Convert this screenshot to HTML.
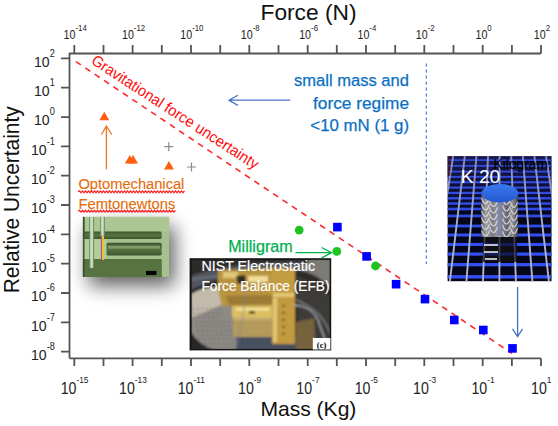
<!DOCTYPE html>
<html><head><meta charset="utf-8"><style>
html,body{margin:0;padding:0;background:#fff;width:558px;height:426px;overflow:hidden}
svg{display:block;position:absolute;left:0;top:0}
text{font-family:"Liberation Sans",sans-serif}
</style></head><body>
<svg width="558" height="426" viewBox="0 0 558 426">
<defs>
<filter id="shd" x="-60%" y="-60%" width="220%" height="220%"><feGaussianBlur stdDeviation="9.5"/></filter>
<filter id="blur1" x="-5%" y="-5%" width="110%" height="110%"><feGaussianBlur stdDeviation="0.7"/></filter>
<filter id="blur2" x="-5%" y="-5%" width="110%" height="110%"><feGaussianBlur stdDeviation="1.0"/></filter>
<clipPath id="efbclip"><rect x="191.5" y="259.7" width="138.2" height="89.2"/></clipPath>
<clipPath id="kgclip"><rect x="447.4" y="156.1" width="104.3" height="125.3"/></clipPath>
<linearGradient id="omdark" x1="0" x2="0" y1="0" y2="1">
<stop offset="0" stop-color="#3e5630"/><stop offset="0.5" stop-color="#587442"/><stop offset="1" stop-color="#3e5630"/>
</linearGradient>
<linearGradient id="kghaze" x1="0" x2="0" y1="0" y2="1"><stop offset="0" stop-color="#3a44b8" stop-opacity="0.35"/><stop offset="0.4" stop-color="#2a3090" stop-opacity="0.12"/><stop offset="0.6" stop-color="#000" stop-opacity="0"/></linearGradient>
<linearGradient id="kgcyl2" x1="0" x2="1" y1="0" y2="0">
<stop offset="0" stop-color="#5a5a60"/><stop offset="0.12" stop-color="#c8c8cc"/><stop offset="0.3" stop-color="#909098"/><stop offset="0.5" stop-color="#d0d0d4"/><stop offset="0.7" stop-color="#6a6a78"/><stop offset="0.85" stop-color="#b0b0b8"/><stop offset="1" stop-color="#3a3a44"/>
</linearGradient>
<linearGradient id="kgtop" x1="0" x2="0" y1="0" y2="1"><stop offset="0" stop-color="#3a78f0"/><stop offset="1" stop-color="#2358d0"/></linearGradient>
</defs>
<path d="M69.5,358.3 L69.5,53.5 L541.0,53.5" fill="none" stroke="#545454" stroke-width="1.8" stroke-linejoin="round"/>
<path d="M69.5,358.3 L541.0,358.3" fill="none" stroke="#545454" stroke-width="1.8"/>
<path d="M74.3,53.5 L74.3,45 M74.3,358.3 L74.3,366 M103.5,53.5 L103.5,45 M103.5,358.3 L103.5,366 M132.6,53.5 L132.6,45 M132.6,358.3 L132.6,366 M161.8,53.5 L161.8,45 M161.8,358.3 L161.8,366 M191.0,53.5 L191.0,45 M191.0,358.3 L191.0,366 M220.2,53.5 L220.2,45 M220.2,358.3 L220.2,366 M249.3,53.5 L249.3,45 M249.3,358.3 L249.3,366 M278.5,53.5 L278.5,45 M278.5,358.3 L278.5,366 M307.7,53.5 L307.7,45 M307.7,358.3 L307.7,366 M336.8,53.5 L336.8,45 M336.8,358.3 L336.8,366 M366.0,53.5 L366.0,45 M366.0,358.3 L366.0,366 M395.2,53.5 L395.2,45 M395.2,358.3 L395.2,366 M424.3,53.5 L424.3,45 M424.3,358.3 L424.3,366 M453.5,53.5 L453.5,45 M453.5,358.3 L453.5,366 M482.7,53.5 L482.7,45 M482.7,358.3 L482.7,366 M511.9,53.5 L511.9,45 M511.9,358.3 L511.9,366 M541.0,53.5 L541.0,45 M541.0,358.3 L541.0,366 M61,58.4 L69.5,58.4 M61,87.7 L69.5,87.7 M61,117.1 L69.5,117.1 M61,146.4 L69.5,146.4 M61,175.7 L69.5,175.7 M61,205.0 L69.5,205.0 M61,234.4 L69.5,234.4 M61,263.7 L69.5,263.7 M61,293.0 L69.5,293.0 M61,322.4 L69.5,322.4 M61,351.7 L69.5,351.7" stroke="#545454" stroke-width="1.8" fill="none"/>
<g transform="translate(75.20,39.00) scale(0.87,1)"><text x="0" y="0" font-size="12.3" text-anchor="middle" fill="#222">10<tspan font-size="9" dy="-8.3">-14</tspan></text></g>
<g transform="translate(133.54,39.00) scale(0.87,1)"><text x="0" y="0" font-size="12.3" text-anchor="middle" fill="#222">10<tspan font-size="9" dy="-8.3">-12</tspan></text></g>
<g transform="translate(191.88,39.00) scale(0.87,1)"><text x="0" y="0" font-size="12.3" text-anchor="middle" fill="#222">10<tspan font-size="9" dy="-8.3">-10</tspan></text></g>
<g transform="translate(250.22,39.00) scale(0.87,1)"><text x="0" y="0" font-size="12.3" text-anchor="middle" fill="#222">10<tspan font-size="9" dy="-8.3">-8</tspan></text></g>
<g transform="translate(308.56,39.00) scale(0.87,1)"><text x="0" y="0" font-size="12.3" text-anchor="middle" fill="#222">10<tspan font-size="9" dy="-8.3">-6</tspan></text></g>
<g transform="translate(366.90,39.00) scale(0.87,1)"><text x="0" y="0" font-size="12.3" text-anchor="middle" fill="#222">10<tspan font-size="9" dy="-8.3">-4</tspan></text></g>
<g transform="translate(425.24,39.00) scale(0.87,1)"><text x="0" y="0" font-size="12.3" text-anchor="middle" fill="#222">10<tspan font-size="9" dy="-8.3">-2</tspan></text></g>
<g transform="translate(483.58,39.00) scale(0.87,1)"><text x="0" y="0" font-size="12.3" text-anchor="middle" fill="#222">10<tspan font-size="9" dy="-8.3">0</tspan></text></g>
<g transform="translate(541.92,39.00) scale(0.87,1)"><text x="0" y="0" font-size="12.3" text-anchor="middle" fill="#222">10<tspan font-size="9" dy="-8.3">2</tspan></text></g>
<g transform="translate(74.60,393.70) scale(0.87,1)"><text x="0" y="0" font-size="16.3" text-anchor="middle" fill="#222">10<tspan font-size="9.6" dy="-10.6">-15</tspan></text></g>
<g transform="translate(132.94,393.70) scale(0.87,1)"><text x="0" y="0" font-size="16.3" text-anchor="middle" fill="#222">10<tspan font-size="9.6" dy="-10.6">-13</tspan></text></g>
<g transform="translate(191.28,393.70) scale(0.87,1)"><text x="0" y="0" font-size="16.3" text-anchor="middle" fill="#222">10<tspan font-size="9.6" dy="-10.6">-11</tspan></text></g>
<g transform="translate(249.62,393.70) scale(0.87,1)"><text x="0" y="0" font-size="16.3" text-anchor="middle" fill="#222">10<tspan font-size="9.6" dy="-10.6">-9</tspan></text></g>
<g transform="translate(307.96,393.70) scale(0.87,1)"><text x="0" y="0" font-size="16.3" text-anchor="middle" fill="#222">10<tspan font-size="9.6" dy="-10.6">-7</tspan></text></g>
<g transform="translate(366.30,393.70) scale(0.87,1)"><text x="0" y="0" font-size="16.3" text-anchor="middle" fill="#222">10<tspan font-size="9.6" dy="-10.6">-5</tspan></text></g>
<g transform="translate(424.64,393.70) scale(0.87,1)"><text x="0" y="0" font-size="16.3" text-anchor="middle" fill="#222">10<tspan font-size="9.6" dy="-10.6">-3</tspan></text></g>
<g transform="translate(482.98,393.70) scale(0.87,1)"><text x="0" y="0" font-size="16.3" text-anchor="middle" fill="#222">10<tspan font-size="9.6" dy="-10.6">-1</tspan></text></g>
<g transform="translate(541.32,393.70) scale(0.87,1)"><text x="0" y="0" font-size="16.3" text-anchor="middle" fill="#222">10<tspan font-size="9.6" dy="-10.6">1</tspan></text></g>
<g transform="translate(54.80,66.80) scale(0.92,1)"><text x="0" y="0" font-size="15.3" text-anchor="end" fill="#222">10<tspan font-size="10" dy="-10.2">2</tspan></text></g>
<g transform="translate(54.80,96.13) scale(0.92,1)"><text x="0" y="0" font-size="15.3" text-anchor="end" fill="#222">10<tspan font-size="10" dy="-10.2">1</tspan></text></g>
<g transform="translate(54.80,125.46) scale(0.92,1)"><text x="0" y="0" font-size="15.3" text-anchor="end" fill="#222">10<tspan font-size="10" dy="-10.2">0</tspan></text></g>
<g transform="translate(54.80,154.79) scale(0.92,1)"><text x="0" y="0" font-size="15.3" text-anchor="end" fill="#222">10<tspan font-size="10" dy="-10.2">-1</tspan></text></g>
<g transform="translate(54.80,184.12) scale(0.92,1)"><text x="0" y="0" font-size="15.3" text-anchor="end" fill="#222">10<tspan font-size="10" dy="-10.2">-2</tspan></text></g>
<g transform="translate(54.80,213.45) scale(0.92,1)"><text x="0" y="0" font-size="15.3" text-anchor="end" fill="#222">10<tspan font-size="10" dy="-10.2">-3</tspan></text></g>
<g transform="translate(54.80,242.78) scale(0.92,1)"><text x="0" y="0" font-size="15.3" text-anchor="end" fill="#222">10<tspan font-size="10" dy="-10.2">-4</tspan></text></g>
<g transform="translate(54.80,272.11) scale(0.92,1)"><text x="0" y="0" font-size="15.3" text-anchor="end" fill="#222">10<tspan font-size="10" dy="-10.2">-5</tspan></text></g>
<g transform="translate(54.80,301.44) scale(0.92,1)"><text x="0" y="0" font-size="15.3" text-anchor="end" fill="#222">10<tspan font-size="10" dy="-10.2">-6</tspan></text></g>
<g transform="translate(54.80,330.77) scale(0.92,1)"><text x="0" y="0" font-size="15.3" text-anchor="end" fill="#222">10<tspan font-size="10" dy="-10.2">-7</tspan></text></g>
<g transform="translate(54.80,360.10) scale(0.92,1)"><text x="0" y="0" font-size="15.3" text-anchor="end" fill="#222">10<tspan font-size="10" dy="-10.2">-8</tspan></text></g>
<text x="260.5" y="19.7" font-size="22" textLength="96" lengthAdjust="spacingAndGlyphs" fill="#111">Force (N)</text>
<text x="260.4" y="416" font-size="20.8" textLength="96" lengthAdjust="spacingAndGlyphs" fill="#111">Mass (Kg)</text>
<text transform="translate(18.8,293.3) rotate(-90)" font-size="22" textLength="187" lengthAdjust="spacingAndGlyphs" fill="#111">Relative Uncertainty</text>
<path d="M75.9,61.6 L512,353.4" stroke="#ff2a2a" stroke-width="1.6" stroke-dasharray="6 5.3" fill="none"/>
<text transform="translate(90.2,63.1) rotate(33)" font-size="15.5" textLength="196" lengthAdjust="spacingAndGlyphs" fill="#ff0a0a">Gravitational force uncertainty</text>
<g fill="#0a6fc2" stroke="#0a6fc2" stroke-width="0.25" font-size="17.3">
<text x="294" y="85.6" textLength="115" lengthAdjust="spacingAndGlyphs">small mass and</text>
<text x="313" y="108.6" textLength="96" lengthAdjust="spacingAndGlyphs">force regime</text>
<text x="310.3" y="131.2" textLength="98.7" lengthAdjust="spacingAndGlyphs">&lt;10 mN (1 g)</text>
</g>
<path d="M290.3,100.2 H229 M237.9,95.3 L229,100.2 L237.9,105.4" stroke="#4472c4" stroke-width="1.3" fill="none"/>
<path d="M426.3,63.4 V264" stroke="#3a78c8" stroke-width="1.1" stroke-dasharray="3.4 2.6" fill="none"/>
<path d="M517.6,287 V336.5 M512.5,328.8 L517.6,336.5 L522.5,328.8" stroke="#4472c4" stroke-width="1.3" fill="none"/>
<path d="M106.4,169.4 V126 M101.4,134.5 L106.4,126 L111.7,134.5" stroke="#e8782a" stroke-width="1.3" fill="none"/>
<g fill="#e46c0a" stroke="#e46c0a" stroke-width="0.12" font-size="14">
<text x="78.4" y="189" textLength="106" lengthAdjust="spacingAndGlyphs">Optomechanical</text>
<text x="78.4" y="208.6" textLength="97" lengthAdjust="spacingAndGlyphs">Femtonewtons</text>
</g>
<path d="M78,191.8 L79.5,190.9 L81.0,192.70000000000002 L82.5,190.9 L84.0,192.70000000000002 L85.5,190.9 L87.0,192.70000000000002 L88.5,190.9 L90.0,192.70000000000002 L91.5,190.9 L93.0,192.70000000000002 L94.5,190.9 L96.0,192.70000000000002 L97.5,190.9 L99.0,192.70000000000002 L100.5,190.9 L102.0,192.70000000000002 L103.5,190.9 L105.0,192.70000000000002 L106.5,190.9 L108.0,192.70000000000002 L109.5,190.9 L111.0,192.70000000000002 L112.5,190.9 L114.0,192.70000000000002 L115.5,190.9 L117.0,192.70000000000002 L118.5,190.9 L120.0,192.70000000000002 L121.5,190.9 L123.0,192.70000000000002 L124.5,190.9 L126.0,192.70000000000002 L127.5,190.9 L129.0,192.70000000000002 L130.5,190.9 L132.0,192.70000000000002 L133.5,190.9 L135.0,192.70000000000002 L136.5,190.9 L138.0,192.70000000000002 L139.5,190.9 L141.0,192.70000000000002 L142.5,190.9 L144.0,192.70000000000002 L145.5,190.9 L147.0,192.70000000000002 L148.5,190.9 L150.0,192.70000000000002 L151.5,190.9 L153.0,192.70000000000002 L154.5,190.9 L156.0,192.70000000000002 L157.5,190.9 L159.0,192.70000000000002 L160.5,190.9 L162.0,192.70000000000002 L163.5,190.9 L165.0,192.70000000000002 L166.5,190.9 L168.0,192.70000000000002 L169.5,190.9 L171.0,192.70000000000002 L172.5,190.9 L174.0,192.70000000000002 L175.5,190.9 L177.0,192.70000000000002 L178.5,190.9 L180.0,192.70000000000002 L181.5,190.9 L183.0,192.70000000000002 L184.5,190.9" stroke="#ff2020" stroke-width="1.2" fill="none"/>
<path d="M78,211.2 L79.5,210.29999999999998 L81.0,212.1 L82.5,210.29999999999998 L84.0,212.1 L85.5,210.29999999999998 L87.0,212.1 L88.5,210.29999999999998 L90.0,212.1 L91.5,210.29999999999998 L93.0,212.1 L94.5,210.29999999999998 L96.0,212.1 L97.5,210.29999999999998 L99.0,212.1 L100.5,210.29999999999998 L102.0,212.1 L103.5,210.29999999999998 L105.0,212.1 L106.5,210.29999999999998 L108.0,212.1 L109.5,210.29999999999998 L111.0,212.1 L112.5,210.29999999999998 L114.0,212.1 L115.5,210.29999999999998 L117.0,212.1 L118.5,210.29999999999998 L120.0,212.1 L121.5,210.29999999999998 L123.0,212.1 L124.5,210.29999999999998 L126.0,212.1 L127.5,210.29999999999998 L129.0,212.1 L130.5,210.29999999999998 L132.0,212.1 L133.5,210.29999999999998 L135.0,212.1 L136.5,210.29999999999998 L138.0,212.1 L139.5,210.29999999999998 L141.0,212.1 L142.5,210.29999999999998 L144.0,212.1 L145.5,210.29999999999998 L147.0,212.1 L148.5,210.29999999999998 L150.0,212.1 L151.5,210.29999999999998 L153.0,212.1 L154.5,210.29999999999998 L156.0,212.1 L157.5,210.29999999999998 L159.0,212.1 L160.5,210.29999999999998 L162.0,212.1 L163.5,210.29999999999998 L165.0,212.1 L166.5,210.29999999999998 L168.0,212.1 L169.5,210.29999999999998 L171.0,212.1 L172.5,210.29999999999998 L174.0,212.1 L175.5,210.29999999999998" stroke="#ff2020" stroke-width="1.2" fill="none"/>
<text x="228.2" y="252" font-size="16" fill="#00b050" stroke="#00b050" stroke-width="0.25" textLength="64.5" lengthAdjust="spacingAndGlyphs">Milligram</text>
<path d="M295.4,252.7 H331.6 M321.6,247.5 L331.6,252.7 L321.6,257.9" stroke="#00b050" stroke-width="1.3" fill="none"/>

<rect x="333.1" y="222.8" width="8.6" height="8.6" fill="#0000ff"/>
<rect x="362.3" y="252.1" width="8.6" height="8.6" fill="#0000ff"/>
<rect x="391.8" y="279.9" width="8.6" height="8.6" fill="#0000ff"/>
<rect x="420.7" y="294.8" width="8.6" height="8.6" fill="#0000ff"/>
<rect x="450.0" y="315.7" width="8.6" height="8.6" fill="#0000ff"/>
<rect x="479.0" y="325.7" width="8.6" height="8.6" fill="#0000ff"/>
<rect x="508.2" y="344.1" width="8.6" height="8.6" fill="#0000ff"/>
<circle cx="299.2" cy="230.1" r="4.4" fill="#1fc31f"/>
<circle cx="336.8" cy="251.4" r="4.4" fill="#1fc31f"/>
<circle cx="375.5" cy="266" r="4.4" fill="#1fc31f"/>
<path d="M99.3,120.3 L109.3,120.3 L104.3,111.8 Z" fill="#ff5f0f"/>
<path d="M124.8,163.6 L134.8,163.6 L129.8,155.1 Z" fill="#ff5f0f"/>
<path d="M128.0,163.6 L138.0,163.6 L133.0,155.1 Z" fill="#ff5f0f"/>
<path d="M164.0,169.6 L174.0,169.6 L169.0,161.1 Z" fill="#ff5f0f"/>
<path d="M164.3,146.7 H173.3 M168.8,142.2 V151.2" stroke="#8a8a8a" stroke-width="1.2"/>
<path d="M187.0,167 H196.0 M191.5,162.5 V171.5" stroke="#8a8a8a" stroke-width="1.2"/>
<rect x="88.5" y="226" width="86.2" height="60" fill="#000" opacity="0.62" filter="url(#shd)"/>
<rect x="82.9" y="216.9" width="86.2" height="60" fill="#a6c18e"/>
<rect x="82.9" y="216.9" width="86.2" height="14" fill="#adc794"/>
<rect x="82.9" y="231.4" width="78.8" height="7.6" rx="1.5" fill="url(#omdark)"/>
<rect x="106.4" y="242.8" width="55.3" height="12.6" rx="1.5" fill="url(#omdark)"/>
<rect x="108" y="245.6" width="52" height="3" fill="#86a06c" opacity="0.9"/>
<rect x="82.9" y="259" width="78.8" height="18" fill="#56703f"/>
<rect x="82.9" y="262" width="78.8" height="15" fill="#5a7444" opacity="0.6"/>
<rect x="82.9" y="216.9" width="1.8" height="60" fill="#3c5230"/>
<rect x="84.7" y="239" width="21.5" height="20" fill="#b2cd9a"/>
<rect x="89.2" y="216.9" width="1" height="51" fill="#6f8a5c"/>
<rect x="90.3" y="216.9" width="2.8" height="51" fill="#c6ddb8"/>
<rect x="93.1" y="216.9" width="1" height="51" fill="#6f8a5c"/>
<rect x="100.2" y="216.9" width="1" height="19" fill="#6f8a5c"/>
<rect x="101.2" y="216.9" width="2.6" height="19" fill="#cae0c2"/>
<rect x="103.8" y="216.9" width="1" height="19" fill="#6f8a5c"/>
<rect x="100.9" y="235.9" width="1.2" height="24" fill="#9a5a8a"/>
<rect x="102.1" y="235.9" width="1.9" height="24" fill="#f4c030"/>
<rect x="146" y="270.9" width="10.4" height="4.1" fill="#000"/>

<rect x="189.6" y="258.2" width="141.6" height="92.2" fill="#141414"/>
<g clip-path="url(#efbclip)">
<g filter="url(#blur2)">
<rect x="191" y="259" width="140" height="91" fill="#2e2c29"/>
<path d="M191,276 Q230,262 300,262 L331,266 L331,272 Q270,268 240,274 Q210,280 191,290 Z" fill="#5e6470" opacity="0.75"/>
<path d="M191,280 Q215,274 240,278" stroke="#8890a0" stroke-width="1.2" fill="none" opacity="0.7"/>
<path d="M310,259 L331,259 L331,290 Q322,276 300,270 Z" fill="#7c7a76"/>
<path d="M295,276 Q325,285 331,300 L331,350 L300,350 Z" fill="#3c3a38"/>
<path d="M296,300 Q322,310 331,335" stroke="#7a7a7a" stroke-width="1.5" fill="none"/>
<path d="M191,294 Q205,286 222,288 L226,304 L194,318 L191,318 Z" fill="#c2baaa"/>
<path d="M191,318 L226,303 L236,309 L238,350 L191,350 Z" fill="#8e8a84"/>
<path d="M191,332 Q198,344 214,350 L191,350 Z" fill="#2a2826"/>
<g fill="#4a4e5c"><circle cx="193.0" cy="309.0" r="0.75"/><circle cx="197.6" cy="309.0" r="0.75"/><circle cx="202.2" cy="309.0" r="0.75"/><circle cx="206.8" cy="309.0" r="0.75"/><circle cx="211.4" cy="309.0" r="0.75"/><circle cx="216.0" cy="309.0" r="0.75"/><circle cx="220.6" cy="309.0" r="0.75"/><circle cx="194.0" cy="313.3" r="0.75"/><circle cx="198.6" cy="313.3" r="0.75"/><circle cx="203.2" cy="313.3" r="0.75"/><circle cx="207.8" cy="313.3" r="0.75"/><circle cx="212.4" cy="313.3" r="0.75"/><circle cx="217.0" cy="313.3" r="0.75"/><circle cx="221.6" cy="313.3" r="0.75"/><circle cx="195.0" cy="317.6" r="0.75"/><circle cx="199.6" cy="317.6" r="0.75"/><circle cx="204.2" cy="317.6" r="0.75"/><circle cx="208.8" cy="317.6" r="0.75"/><circle cx="213.4" cy="317.6" r="0.75"/><circle cx="218.0" cy="317.6" r="0.75"/><circle cx="196.0" cy="321.9" r="0.75"/><circle cx="200.6" cy="321.9" r="0.75"/><circle cx="205.2" cy="321.9" r="0.75"/><circle cx="209.8" cy="321.9" r="0.75"/><circle cx="214.4" cy="321.9" r="0.75"/><circle cx="219.0" cy="321.9" r="0.75"/><circle cx="223.6" cy="321.9" r="0.75"/><circle cx="228.2" cy="321.9" r="0.75"/><circle cx="232.8" cy="321.9" r="0.75"/><circle cx="197.0" cy="326.2" r="0.75"/><circle cx="201.6" cy="326.2" r="0.75"/><circle cx="206.2" cy="326.2" r="0.75"/><circle cx="210.8" cy="326.2" r="0.75"/><circle cx="215.4" cy="326.2" r="0.75"/><circle cx="220.0" cy="326.2" r="0.75"/><circle cx="224.6" cy="326.2" r="0.75"/><circle cx="229.2" cy="326.2" r="0.75"/><circle cx="233.8" cy="326.2" r="0.75"/><circle cx="198.0" cy="330.5" r="0.75"/><circle cx="202.6" cy="330.5" r="0.75"/><circle cx="207.2" cy="330.5" r="0.75"/><circle cx="211.8" cy="330.5" r="0.75"/><circle cx="216.4" cy="330.5" r="0.75"/><circle cx="221.0" cy="330.5" r="0.75"/><circle cx="225.6" cy="330.5" r="0.75"/><circle cx="230.2" cy="330.5" r="0.75"/><circle cx="234.8" cy="330.5" r="0.75"/><circle cx="199.0" cy="334.8" r="0.75"/><circle cx="203.6" cy="334.8" r="0.75"/><circle cx="208.2" cy="334.8" r="0.75"/><circle cx="212.8" cy="334.8" r="0.75"/><circle cx="217.4" cy="334.8" r="0.75"/><circle cx="222.0" cy="334.8" r="0.75"/><circle cx="226.6" cy="334.8" r="0.75"/><circle cx="231.2" cy="334.8" r="0.75"/><circle cx="235.8" cy="334.8" r="0.75"/><circle cx="200.0" cy="339.1" r="0.75"/><circle cx="204.6" cy="339.1" r="0.75"/><circle cx="209.2" cy="339.1" r="0.75"/><circle cx="213.8" cy="339.1" r="0.75"/><circle cx="218.4" cy="339.1" r="0.75"/><circle cx="223.0" cy="339.1" r="0.75"/><circle cx="227.6" cy="339.1" r="0.75"/><circle cx="232.2" cy="339.1" r="0.75"/><circle cx="201.0" cy="343.4" r="0.75"/><circle cx="205.6" cy="343.4" r="0.75"/><circle cx="210.2" cy="343.4" r="0.75"/><circle cx="214.8" cy="343.4" r="0.75"/><circle cx="219.4" cy="343.4" r="0.75"/><circle cx="224.0" cy="343.4" r="0.75"/><circle cx="228.6" cy="343.4" r="0.75"/><circle cx="233.2" cy="343.4" r="0.75"/><circle cx="202.0" cy="347.7" r="0.75"/><circle cx="206.6" cy="347.7" r="0.75"/><circle cx="211.2" cy="347.7" r="0.75"/><circle cx="215.8" cy="347.7" r="0.75"/><circle cx="220.4" cy="347.7" r="0.75"/><circle cx="225.0" cy="347.7" r="0.75"/><circle cx="229.6" cy="347.7" r="0.75"/><circle cx="234.2" cy="347.7" r="0.75"/></g>
<rect x="236" y="336" width="60" height="14" fill="#4a5262"/>
<g fill="#22283a"><circle cx="238.0" cy="339.0" r="0.7"/><circle cx="242.8" cy="339.0" r="0.7"/><circle cx="247.6" cy="339.0" r="0.7"/><circle cx="252.4" cy="339.0" r="0.7"/><circle cx="257.2" cy="339.0" r="0.7"/><circle cx="262.0" cy="339.0" r="0.7"/><circle cx="266.8" cy="339.0" r="0.7"/><circle cx="271.6" cy="339.0" r="0.7"/><circle cx="276.4" cy="339.0" r="0.7"/><circle cx="281.2" cy="339.0" r="0.7"/><circle cx="286.0" cy="339.0" r="0.7"/><circle cx="290.8" cy="339.0" r="0.7"/><circle cx="295.6" cy="339.0" r="0.7"/><circle cx="300.4" cy="339.0" r="0.7"/><circle cx="305.2" cy="339.0" r="0.7"/><circle cx="310.0" cy="339.0" r="0.7"/><circle cx="238.0" cy="343.3" r="0.7"/><circle cx="242.8" cy="343.3" r="0.7"/><circle cx="247.6" cy="343.3" r="0.7"/><circle cx="252.4" cy="343.3" r="0.7"/><circle cx="257.2" cy="343.3" r="0.7"/><circle cx="262.0" cy="343.3" r="0.7"/><circle cx="266.8" cy="343.3" r="0.7"/><circle cx="271.6" cy="343.3" r="0.7"/><circle cx="276.4" cy="343.3" r="0.7"/><circle cx="281.2" cy="343.3" r="0.7"/><circle cx="286.0" cy="343.3" r="0.7"/><circle cx="290.8" cy="343.3" r="0.7"/><circle cx="295.6" cy="343.3" r="0.7"/><circle cx="300.4" cy="343.3" r="0.7"/><circle cx="305.2" cy="343.3" r="0.7"/><circle cx="310.0" cy="343.3" r="0.7"/><circle cx="238.0" cy="347.6" r="0.7"/><circle cx="242.8" cy="347.6" r="0.7"/><circle cx="247.6" cy="347.6" r="0.7"/><circle cx="252.4" cy="347.6" r="0.7"/><circle cx="257.2" cy="347.6" r="0.7"/><circle cx="262.0" cy="347.6" r="0.7"/><circle cx="266.8" cy="347.6" r="0.7"/><circle cx="271.6" cy="347.6" r="0.7"/><circle cx="276.4" cy="347.6" r="0.7"/><circle cx="281.2" cy="347.6" r="0.7"/><circle cx="286.0" cy="347.6" r="0.7"/><circle cx="290.8" cy="347.6" r="0.7"/><circle cx="295.6" cy="347.6" r="0.7"/><circle cx="300.4" cy="347.6" r="0.7"/><circle cx="305.2" cy="347.6" r="0.7"/><circle cx="310.0" cy="347.6" r="0.7"/></g>
<path d="M218,270 L272,268 L272,306 L222,306 L218,290 Z" fill="#b99440"/>
<rect x="223" y="272" width="15" height="6" fill="#e2c878"/>
<path d="M236,276 L245,275 L246,283 L238,284 Z" fill="#2e2a20"/>
<rect x="248" y="276" width="20" height="6" fill="#f0dc96"/>
<path d="M226,296 L272,295 L272,304 L229,305 Z" fill="#9a7a34"/>
<rect x="232" y="306" width="41" height="11" fill="#dcc060"/>
<rect x="236" y="308" width="33" height="2.5" fill="#f2e2a0"/>
<rect x="249" y="311" width="6" height="2.5" fill="#2a1e0c"/>
<rect x="233" y="317" width="40" height="20" fill="#b49a5c"/>
<rect x="233" y="317" width="40" height="3" fill="#c8b070"/>
<rect x="271" y="268" width="24" height="26" fill="#c49c40"/>
<rect x="272" y="292" width="23" height="52" fill="#c29a40"/>
<rect x="273" y="293" width="21" height="4" fill="#e0c878"/>
<rect x="273" y="298" width="4" height="44" fill="#e0c878"/>
<g fill="#5a3d18"><rect x="282" y="305" width="3" height="1.5"/><rect x="282" y="312" width="3" height="1.5"/><rect x="282" y="319" width="3" height="1.5"/><rect x="282" y="326" width="3" height="1.5"/><rect x="282" y="333" width="3" height="1.5"/></g>
<path d="M296,322 L314,318 L316,350 L296,350 Z" fill="#76623e"/>
<path d="M294,305 Q312,306 318,320 Q322,332 326,342" stroke="#c8d0d8" stroke-width="1" fill="none"/>
<path d="M246,288 Q244,320 236,348" stroke="#7a8898" stroke-width="0.8" fill="none"/>
</g>
</g>
<g fill="#fff" stroke="#fff" stroke-width="0.2" font-size="13.8">
<text x="201.5" y="270.6" textLength="113.5" lengthAdjust="spacingAndGlyphs">NIST Electrostatic</text>
<text x="201.5" y="290.6" textLength="128" lengthAdjust="spacingAndGlyphs">Force Balance (EFB)</text>
</g>
<rect x="312.8" y="338" width="17.6" height="11.5" fill="#fff"/>
<text x="321.6" y="347.5" font-size="8.6" font-weight="bold" text-anchor="middle" style="font-family:'Liberation Serif',serif">(c)</text>

<g clip-path="url(#kgclip)">
<rect x="447.4" y="156.1" width="104.3" height="125.3" fill="#06061a"/>
<g filter="url(#blur1)">
<g fill="#3050f4"><rect x="447.4" y="159.3" width="104.3" height="1.6"/><rect x="447.4" y="165.0" width="104.3" height="1.7"/><rect x="447.4" y="170.7" width="104.3" height="1.8"/><rect x="447.4" y="175.9" width="104.3" height="1.9"/><rect x="447.4" y="181.2" width="104.3" height="2.1"/><rect x="447.4" y="186.5" width="104.3" height="2.2"/><rect x="447.4" y="191.8" width="104.3" height="2.3"/><rect x="447.4" y="197.1" width="104.3" height="2.4"/><rect x="447.4" y="202.3" width="104.3" height="2.5"/><rect x="447.4" y="207.7" width="104.3" height="2.6"/><rect x="447.4" y="214.6" width="104.3" height="2.7"/><rect x="447.4" y="224.6" width="104.3" height="2.8"/><rect x="447.4" y="233.5" width="104.3" height="3.0"/><rect x="447.4" y="242.9" width="104.3" height="3.1"/><rect x="447.4" y="252.5" width="104.3" height="3.2"/><rect x="447.4" y="263.0" width="104.3" height="3.3"/><rect x="447.4" y="275.1" width="104.3" height="3.4"/></g>
<path d="M416.9,281.4 L441.6,156.1 M433.4,281.4 L453.2,156.1 M449.9,281.4 L464.8,156.1 M466.4,281.4 L476.4,156.1 M482.9,281.4 L488.0,156.1 M499.4,281.4 L499.6,156.1 M515.9,281.4 L511.2,156.1 M532.4,281.4 L522.8,156.1 M548.9,281.4 L534.4,156.1 M565.4,281.4 L546.0,156.1 M581.9,281.4 L557.6,156.1" stroke="#aeb2cc" stroke-width="1.9" fill="none"/>
<rect x="447.4" y="156.1" width="104.3" height="125.3" fill="url(#kghaze)"/>
<rect x="481.5" y="193" width="36.5" height="44" fill="#4a4a52"/>
<rect x="481.5" y="193" width="36.5" height="44" fill="url(#kgcyl2)" opacity="0.7"/>
<rect x="497.5" y="202" width="5" height="34" fill="#4050a0" opacity="0.35"/>
<path d="M481.5,198.0 Q485.5,209.0 489.5,198.0 M481.5,204.5 Q485.5,215.5 489.5,204.5 M481.5,211.0 Q485.5,222.0 489.5,211.0 M481.5,217.5 Q485.5,228.5 489.5,217.5 M481.5,224.0 Q485.5,235.0 489.5,224.0 M481.5,230.5 Q485.5,241.5 489.5,230.5 M489.5,201.0 Q493.5,212.0 497.5,201.0 M489.5,207.5 Q493.5,218.5 497.5,207.5 M489.5,214.0 Q493.5,225.0 497.5,214.0 M489.5,220.5 Q493.5,231.5 497.5,220.5 M489.5,227.0 Q493.5,238.0 497.5,227.0 M502.5,199.0 Q506.5,210.0 510.5,199.0 M502.5,205.5 Q506.5,216.5 510.5,205.5 M502.5,212.0 Q506.5,223.0 510.5,212.0 M502.5,218.5 Q506.5,229.5 510.5,218.5 M502.5,225.0 Q506.5,236.0 510.5,225.0 M502.5,231.5 Q506.5,242.5 510.5,231.5 M510.5,202.0 Q514.0,213.0 517.5,202.0 M510.5,208.5 Q514.0,219.5 517.5,208.5 M510.5,215.0 Q514.0,226.0 517.5,215.0 M510.5,221.5 Q514.0,232.5 517.5,221.5 M510.5,228.0 Q514.0,239.0 517.5,228.0" stroke="#e8e8ee" stroke-width="1.1" fill="none" opacity="0.8"/>
<rect x="483" y="237" width="34" height="25" fill="#0a0a14" opacity="0.7"/>
<g fill="#dcdce4" opacity="0.85"><rect x="484" y="244" width="14" height="2"/><rect x="484" y="251" width="14" height="2"/><rect x="485" y="258" width="12" height="2"/></g>
</g>
<ellipse cx="499.9" cy="193.2" rx="18.4" ry="9.2" fill="url(#kgtop)"/>
<rect x="447.4" y="156.1" width="3" height="20" fill="#4a1020" opacity="0.6"/>
</g>
<text x="460.8" y="183.4" font-size="19.2" fill="#fff">K 20</text>
<text x="493.6" y="168.6" font-size="13.8" fill="#000">Kilogram</text>

</svg>
</body></html>
